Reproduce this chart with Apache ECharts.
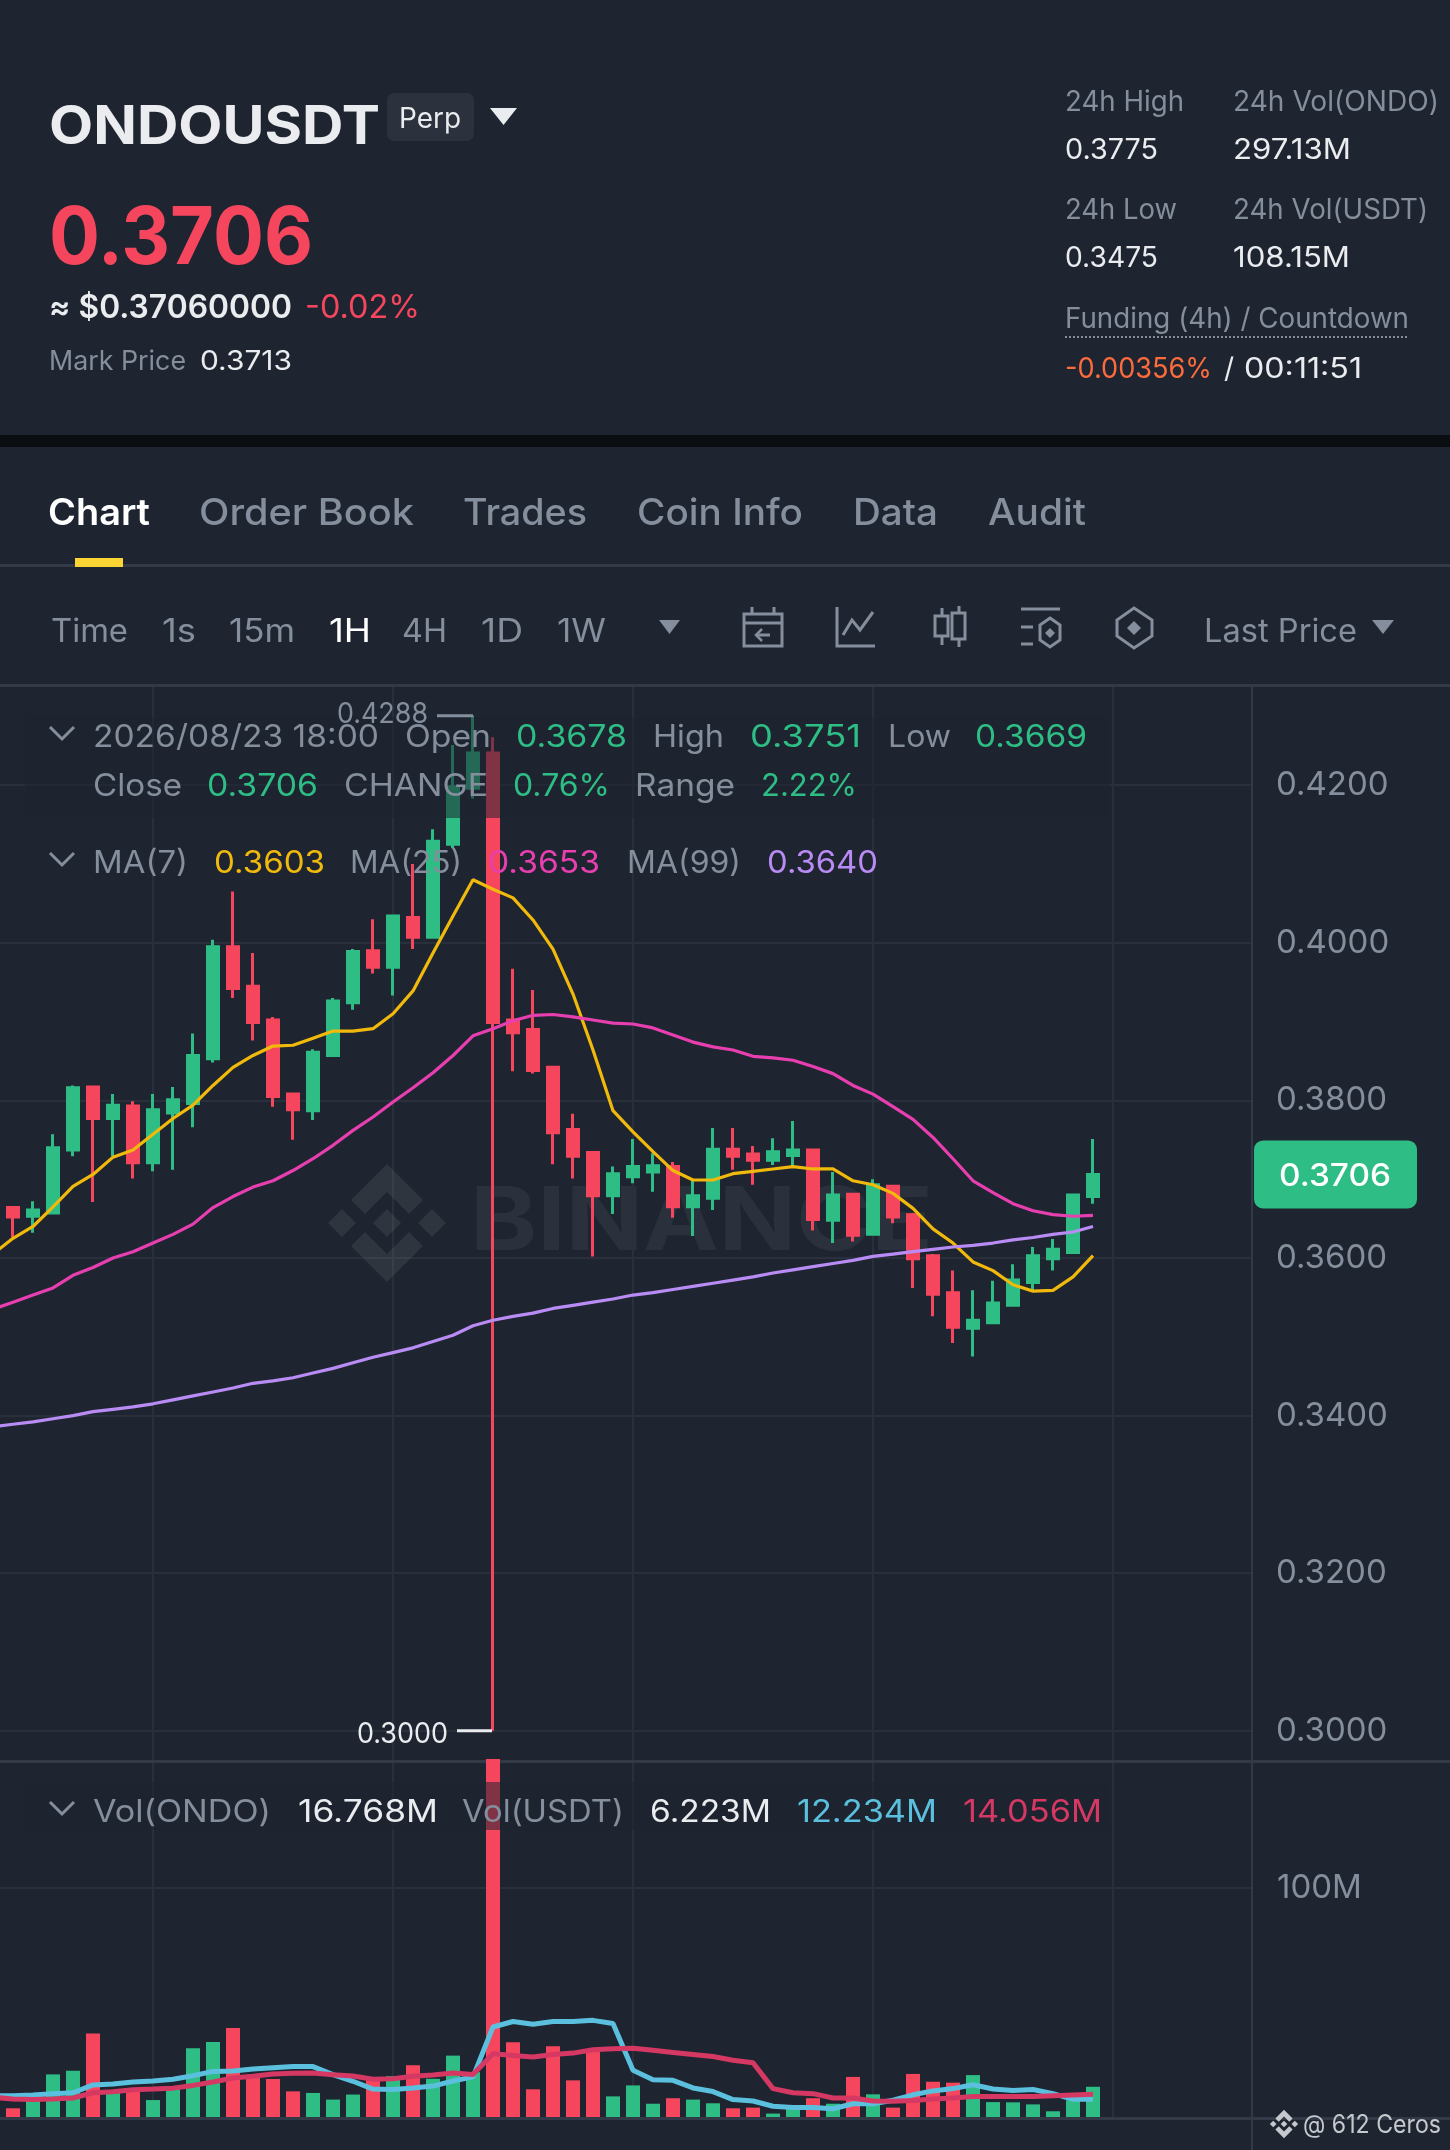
<!DOCTYPE html>
<html><head><meta charset="utf-8">
<style>html,body{margin:0;padding:0;background:#1e2530}#c{width:1450px;height:2150px}</style>
<script src="https://cdn.jsdelivr.net/npm/echarts@6/dist/echarts.min.js"></script>
</head><body><div id="c"></div>
<script>
const opens=[0.3664,0.3653,0.3657,0.3737,0.3817,0.3777,0.3793,0.3721,0.3784,0.3796,0.3853,0.3995,0.3945,0.3902,0.3808,0.3787,0.3857,0.3924,0.3990,0.3969,0.4032,0.4007,0.4125,0.4196,0.4241,0.3902,0.3890,0.3842,0.3763,0.3734,0.3679,0.3703,0.3709,0.3716,0.3665,0.3676,0.3738,0.3732,0.3724,0.3730,0.3737,0.3648,0.3681,0.3630,0.3691,0.3655,0.3603,0.3556,0.3511,0.3518,0.3540,0.3569,0.3599,0.3607,0.3678];
const closes=[0.3652,0.3661,0.3740,0.3816,0.3777,0.3794,0.3721,0.3788,0.3801,0.3857,0.3995,0.3942,0.3899,0.3805,0.3788,0.3861,0.3926,0.3989,0.3969,0.4034,0.4007,0.4129,0.4198,0.4241,0.3899,0.3886,0.3838,0.3759,0.3729,0.3679,0.3707,0.3716,0.3717,0.3665,0.3679,0.3738,0.3729,0.3724,0.3735,0.3737,0.3649,0.3680,0.3629,0.3693,0.3652,0.3599,0.3554,0.3512,0.3521,0.3543,0.3572,0.3603,0.3611,0.3680,0.3706];
const lows=[0.3626,0.3632,0.3656,0.3729,0.3671,0.3729,0.3701,0.3710,0.3712,0.3766,0.3848,0.3930,0.3876,0.3792,0.3750,0.3775,0.3856,0.3915,0.3961,0.3933,0.3992,0.4007,0.4120,0.4183,0.3000,0.3837,0.3834,0.3719,0.3701,0.3602,0.3656,0.3695,0.3684,0.3651,0.3628,0.3661,0.3712,0.3693,0.3718,0.3716,0.3635,0.3619,0.3621,0.3629,0.3644,0.3562,0.3526,0.3492,0.3475,0.3516,0.3538,0.3559,0.3584,0.3607,0.3669];
const highs=[0.3664,0.3672,0.3757,0.3819,0.3818,0.3808,0.3799,0.3808,0.3817,0.3885,0.4004,0.4065,0.3987,0.3906,0.3808,0.3865,0.3930,0.3992,0.4030,0.4034,0.4100,0.4144,0.4251,0.4288,0.4261,0.3967,0.3940,0.3842,0.3783,0.3735,0.3716,0.3751,0.3733,0.3722,0.3698,0.3765,0.3765,0.3742,0.3752,0.3774,0.3739,0.3709,0.3681,0.3700,0.3691,0.3657,0.3605,0.3584,0.3559,0.3571,0.3592,0.3614,0.3624,0.3681,0.3751];
const ma7=[0.3605,0.3625,0.3640,0.3665,0.3691,0.3706,0.3728,0.3737,0.3757,0.3777,0.3794,0.3819,0.3842,0.3857,0.3869,0.3870,0.3879,0.3888,0.3888,0.3891,0.3910,0.3939,0.3987,0.4034,0.4080,0.4068,0.4057,0.4029,0.3992,0.3935,0.3864,0.3787,0.3760,0.3735,0.3711,0.3699,0.3699,0.3707,0.3710,0.3713,0.3716,0.3713,0.3713,0.3698,0.3693,0.3682,0.3663,0.3637,0.3619,0.3595,0.3584,0.3566,0.3558,0.3559,0.3576,0.3603];
const ma25=[0.3535,0.3544,0.3553,0.3562,0.3578,0.3588,0.3600,0.3608,0.3619,0.3630,0.3643,0.3664,0.3678,0.3690,0.3698,0.3711,0.3726,0.3743,0.3762,0.3779,0.3798,0.3816,0.3835,0.3857,0.3882,0.3891,0.3901,0.3908,0.3909,0.3906,0.3902,0.3898,0.3897,0.3892,0.3883,0.3874,0.3868,0.3864,0.3856,0.3854,0.3851,0.3843,0.3834,0.3819,0.3808,0.3792,0.3776,0.3753,0.3726,0.3698,0.3683,0.3669,0.3660,0.3655,0.3653,0.3654];
const ma99=[0.3386,0.3389,0.3392,0.3396,0.3400,0.3405,0.3408,0.3411,0.3415,0.3420,0.3425,0.3430,0.3435,0.3441,0.3444,0.3448,0.3454,0.3460,0.3467,0.3474,0.3480,0.3486,0.3494,0.3502,0.3514,0.3521,0.3526,0.3530,0.3536,0.3540,0.3544,0.3548,0.3553,0.3556,0.3560,0.3564,0.3568,0.3572,0.3576,0.3581,0.3585,0.3589,0.3593,0.3597,0.3602,0.3605,0.3608,0.3611,0.3614,0.3616,0.3619,0.3623,0.3626,0.3630,0.3633,0.3640];
const volumes=[3.8,8,18.6,20.2,36.5,11.6,11.6,7.4,12.4,30,32.7,38.9,17.5,16.6,11.2,10.5,7.6,9.8,16,17.8,22.6,16.7,26.8,19.6,156.3,32.6,12.1,30.9,16,28.4,9,13.8,5.8,8.2,7.6,6,3.8,4.1,1.5,4.4,8.2,5.8,17.5,9.9,4.1,18.8,15.4,15,18.3,6.5,6.4,5.5,2.5,7.3,13.2];
const volMa1=[9.3,9.3,9.6,10.2,10.6,14,14.4,15.3,15.7,16.5,18,19.9,20.1,21,21.5,22,22,18.5,15.6,12.2,12,12.7,13.5,15.7,17.5,39.3,41.7,40.5,41.7,41.7,42.2,40.8,20.4,16.3,16,12.7,11.1,7.6,7,4.7,4.1,4.1,3.6,5.8,5.8,7.3,9.7,11.4,12.4,14.1,12.2,11.6,12,10.2,7.7,7.7];
const volMa2=[8.6,7.9,7.6,7.9,8.3,10.6,11,11.9,12.2,12.6,13.8,15.3,17,17.8,18.8,19.1,19.2,18.5,17.9,16.5,16.7,17.8,18.3,19.2,18.6,27.6,26.9,26.2,27.3,27.9,29.4,29.8,30,29.1,28.2,27.3,26.4,24.8,23.7,12.4,10.6,10.2,8.3,8.3,7,6.9,7.2,7.9,8.3,9,8.9,9,9,9.3,9.6,9.9];
const priceTicks=[0.30,0.32,0.34,0.36,0.38,0.40,0.42];
const volTicks=[100];
const candleGridSlots=[7,19,31,43,55];

const BG='#1e2530',GRID='#2a303b',LINE='#333a47',GREY='#848e9c',WHITE='#eaecef',UP='#2ebd85',DOWN='#f6465d';
const YELLOW='#f0b90b',PINK='#e83fb0',PURPLE='#b98cf5',CYAN='#5bc0de',CRIM='#d63864';
const F='Inter,sans-serif';
const candleData=opens.map((o,i)=>[i,o,closes[i],lows[i],highs[i]]);
const volData=volumes.map((v,i)=>({value:[i,v],itemStyle:{color:closes[i]>=opens[i]?UP:DOWN}}));
const fromPrev=a=>a.map((v,i)=>[i-1,v]);

const mctx=document.createElement('canvas').getContext('2d');
function T(text,x,y,size,fill,weight,w,align,z){
  const font=(weight||400)+' '+size+'px '+F;
  const el={type:'text',z:z||200,style:{text,x:0,y:0,font,fill,align:align||'left',verticalAlign:'middle'},x:x,y:y};
  if(w){mctx.font=font;el.scaleX=w/mctx.measureText(text).width;}
  return el;
}
function R(x,y,w,h,fill,r,z,op){return{type:'rect',z:z||150,shape:{x,y,width:w,height:h,r:r||0},style:{fill,opacity:op==null?1:op}};}
function L(x1,y1,x2,y2,stroke,w,z,dash){return{type:'line',z:z||150,shape:{x1,y1,x2,y2},style:{stroke,lineWidth:w||2,lineDash:dash}};}
function P(pts,fill,z){return{type:'polygon',z:z||150,shape:{points:pts},style:{fill}};}
function PL(pts,stroke,w,z){return{type:'polyline',z:z||150,shape:{points:pts},style:{stroke,lineWidth:w||3,fill:'none'}};}
function logo(cx,cy,s,fill,z){
  const d=(x,y,h)=>P([[cx+x*s,cy+(y-h)*s],[cx+(x+h)*s,cy+y*s],[cx+x*s,cy+(y+h)*s],[cx+(x-h)*s,cy+y*s]],fill,z);
  const ch=(k)=>P([[0,-59],[36,-23],[22,-9],[0,-31],[-22,-9],[-36,-23]].map(p=>[cx+p[0]*s,cy+k*p[1]*s]),fill,z);
  return [d(0,0,14),d(-45,0,14),d(45,0,14),ch(1),ch(-1)];
}
function chevron(x,y){return PL([[x,y],[x+12,y+12],[x+24,y]],GREY,3,200);}
function tri(x1,x2,y1,y2,fill){return P([[x1,y1],[x2,y1],[(x1+x2)/2,y2]],fill,200);}

const g=[];
g.push(R(0,435,1450,12,'#0b0e11',0,1));
g.push(R(0,564,1450,3,LINE,0,1));
g.push(R(75,558,48,9,'#fcd535',0,2));
g.push(R(0,684,1450,3,LINE,0,1));
g.push(R(0,1760,1450,3,LINE,0,1));
g.push(R(0,2117,1450,3,LINE,0,1));
g.push(R(1251,2120,2,30,LINE,0,1));
logo(387,1223,1,'rgba(255,255,255,0.075)',0).forEach(e=>g.push(e));
g.push(Object.assign(T('BINANCE',470,1224,88,'rgba(255,255,255,0.06)',700,463),{z:0}));
g.push(T('ONDOUSDT',49,128,53,'#eaecef',700,331));
g.push(R(387,93,87,48,'#2b313d',7,2));
g.push(T('Perp',399,120,28,WHITE,400,62));
g.push(tri(490,517,108,125,WHITE));
g.push(T('0.3706',49,240,80,DOWN,700,264));
g.push(T('≈ $0.37060000',49,308,32,WHITE,600,243));
g.push(T('-0.02%',305,308,32,DOWN,400,115));
g.push(T('Mark Price',49,362,27,GREY,400,137));
g.push(T('0.3713',200,362,27,WHITE,400,92));
g.push(T('24h High',1065,103,28,GREY,400,119));
g.push(T('24h Vol(ONDO)',1233,103,28,GREY,400,206));
g.push(T('0.3775',1065,151,28,WHITE,400,93));
g.push(T('297.13M',1233,151,28,WHITE,400,118));
g.push(T('24h Low',1065,211,28,GREY,400,112));
g.push(T('24h Vol(USDT)',1233,211,28,GREY,400,195));
g.push(T('0.3475',1065,259,28,WHITE,400,93));
g.push(T('108.15M',1233,259,28,WHITE,400,117));
g.push(T('Funding (4h) / Countdown',1065,320,28,GREY,400,344));
g.push(L(1065,337,1409,337,GREY,2,200,[2,2]));
g.push(T('-0.00356%',1065,370,28,'#fc6b3c',400,147));
g.push(T('/',1224,370,28,WHITE));
g.push(T('00:11:51',1244,370,28,WHITE,400,118));
g.push(T('Chart',48,514,37,'#ffffff',600,102));
[['Order Book',199,215],['Trades',463,124],['Coin Info',637,166],['Data',853,85],['Audit',988,98]].forEach(a=>g.push(T(a[0],a[1],514,37,GREY,500,a[2])));
[['Time',51,77],['1s',162,34],['15m',229,66],['4H',402,45],['1D',481,42],['1W',557,49],['Last Price',1204,153]].forEach(a=>g.push(T(a[0],a[1],632,32,GREY,400,a[2])));
g.push(T('1H',329,632,32,'#ffffff',400,42));
g.push(tri(659,680,620,634,GREY));
g.push(tri(1372,1394,620,634,GREY));
g.push({type:'rect',z:200,shape:{x:744,y:614,width:38,height:32},style:{fill:'none',stroke:GREY,lineWidth:3}});
g.push(L(744,623,782,623,GREY,3,200),L(752,607,752,614,GREY,3,200),L(774,607,774,614,GREY,3,200));
g.push(PL([[770,635],[756,635]],GREY,3,200),PL([[762,629],[756,635],[762,641]],GREY,2.5,200));
g.push(PL([[837,607],[837,646],[875,646]],GREY,3,200),PL([[843,635],[852,620],[860,630],[873,612]],GREY,3,200));
g.push(L(942,608,942,645,GREY,3,200),L(959,606,959,647,GREY,3,200));
g.push({type:'rect',z:202,shape:{x:935,y:616,width:13,height:20},style:{fill:BG,stroke:GREY,lineWidth:3}},{type:'rect',z:202,shape:{x:952,y:613,width:13,height:26},style:{fill:BG,stroke:GREY,lineWidth:3}});
g.push(L(1021,609,1060,609,GREY,3,200),L(1021,627,1033,627,GREY,3,200),L(1021,644,1033,644,GREY,3,200));
g.push({type:'polygon',z:200,shape:{points:[[1050,618],[1060,625],[1060,640],[1050,647],[1040,640],[1040,625]]},style:{fill:'none',stroke:GREY,lineWidth:3}},P([[1050,628],[1055,633],[1050,638],[1045,633]],GREY,200));
g.push({type:'polygon',z:200,shape:{points:[[1134,608],[1152,620],[1152,636],[1134,648],[1117,636],[1117,620]]},style:{fill:'none',stroke:GREY,lineWidth:3}},P([[1134,621],[1141,628],[1134,635],[1127,628]],GREY,200));
g.push(R(25,717,1085,101,BG,0,100,0.55));
g.push(R(25,1782,1085,48,BG,0,100,0.55));
g.push(chevron(50,727));
[['2026/08/23 18:00',93,GREY,286],['Open',405,GREY,86],['0.3678',516,UP,111],['High',653,GREY,71],['0.3751',750,UP,111],['Low',888,GREY,63],['0.3669',975,UP,112]].forEach(a=>g.push(T(a[0],a[1],738,31,a[2],400,a[3])));
[['Close',93,GREY,89],['0.3706',207,UP,111],['CHANGE',344,GREY,144],['0.76%',513,UP,97],['Range',635,GREY,100],['2.22%',761,UP,96]].forEach(a=>g.push(T(a[0],a[1],787,31,a[2],400,a[3])));
g.push(chevron(50,853));
[['MA(7)',93,GREY,95],['0.3603',214,YELLOW,111],['MA(25)',350,GREY,112],['0.3653',488,PINK,112],['MA(99)',627,GREY,114],['0.3640',767,PURPLE,111]].forEach(a=>g.push(T(a[0],a[1],864,31,a[2],400,a[3])));
g.push(chevron(50,1802));
[['Vol(ONDO)',93,GREY,178],['16.768M',298,WHITE,140],['Vol(USDT)',462,GREY,162],['6.223M',650,WHITE,121],['12.234M',797,CYAN,140],['14.056M',963,CRIM,139]].forEach(a=>g.push(T(a[0],a[1],1813,31,a[2],400,a[3])));
logo(1284,2124,0.24,'#c5c8cd',200).forEach(e=>g.push(e));
g.push(T('@ 612 Ceros',1303,2125,25,'#c5c8cd',400,138));

const chart=echarts.init(document.getElementById('c'),null,{width:1450,height:2150,renderer:'canvas'});
const xBase={type:'value',min:-0.65,max:61.95,axisLine:{show:false},axisTick:{show:false,customValues:candleGridSlots},axisLabel:{show:false,customValues:candleGridSlots},
  splitLine:{show:true,lineStyle:{color:GRID,width:2}}};
const yLab={color:GREY,fontFamily:F,fontSize:33};
chart.setOption({
  animation:false,backgroundColor:BG,
  grid:[{left:0,width:1252,top:686,height:1075},{left:0,width:1252,top:1761,height:356}],
  xAxis:[Object.assign({gridIndex:0},xBase),Object.assign({gridIndex:1},xBase)],
  yAxis:[
   {gridIndex:0,type:'value',position:'right',min:0.29617,max:0.43259,
    axisLine:{show:true,onZero:false,lineStyle:{color:LINE,width:2}},
    axisTick:{show:false,customValues:priceTicks},
    axisLabel:Object.assign({customValues:priceTicks,margin:24,formatter:v=>v.toFixed(4)},yLab),
    splitLine:{show:true,lineStyle:{color:GRID,width:2}}},
   {gridIndex:1,type:'value',position:'right',min:0,max:155.46,
    axisLine:{show:true,onZero:false,lineStyle:{color:LINE,width:2}},
    axisTick:{show:false,customValues:volTicks},
    axisLabel:Object.assign({customValues:volTicks,margin:25,formatter:v=>v+'M'},yLab),
    splitLine:{show:true,lineStyle:{color:GRID,width:2}}}],
  series:[
   {type:'candlestick',xAxisIndex:0,yAxisIndex:0,data:candleData,barWidth:11,clip:false,
    itemStyle:{color:UP,color0:DOWN,borderColor:UP,borderColor0:DOWN,borderWidth:3}},
   {type:'line',name:'MA7',xAxisIndex:0,yAxisIndex:0,data:fromPrev(ma7),showSymbol:false,lineStyle:{color:YELLOW,width:3.2}},
   {type:'line',name:'MA25',xAxisIndex:0,yAxisIndex:0,data:fromPrev(ma25),showSymbol:false,lineStyle:{color:PINK,width:3.2}},
   {type:'line',name:'MA99',xAxisIndex:0,yAxisIndex:0,data:fromPrev(ma99),showSymbol:false,lineStyle:{color:PURPLE,width:3.2}},
   {type:'bar',xAxisIndex:1,yAxisIndex:1,data:volData,barWidth:14,clip:false},
   {type:'line',name:'VMA1',xAxisIndex:1,yAxisIndex:1,data:fromPrev(volMa1),showSymbol:false,lineStyle:{color:CYAN,width:5}},
   {type:'line',name:'VMA2',xAxisIndex:1,yAxisIndex:1,data:fromPrev(volMa2),showSymbol:false,lineStyle:{color:CRIM,width:5}}
  ],
  graphic:{elements:g}
});
const py=v=>chart.convertToPixel({yAxisIndex:0},v);
const hi=py(0.4288),lo=py(0.3000),last=py(0.3706);
g.push(T('0.4288',337,hi-1,28,GREY,400,91),L(437,hi,473,hi,GREY,3,200));
g.push(T('0.3000',357,lo+4,28,WHITE,400,91),L(457,lo,492,lo,WHITE,3,200));
g.push(R(1254,last-34,163,68,UP,9,300),T('0.3706',1279,last+2,31,'#ffffff',500,112,'left',301));
chart.setOption({graphic:{elements:g}});
</script></body></html>
